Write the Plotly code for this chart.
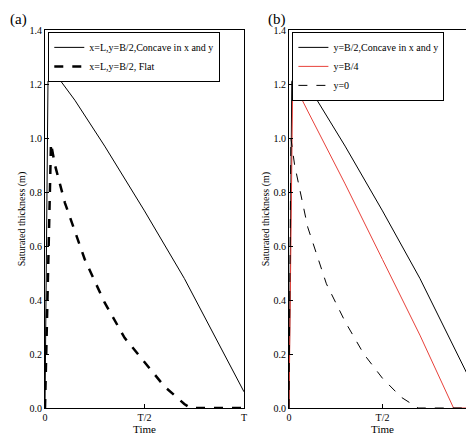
import plotly.graph_objects as go
from plotly.subplots import make_subplots

# --- data (time as fraction of T, thickness in m) ---
t_concave = [0, 0.015, 0.03, 0.06, 0.08, 0.15, 0.3, 0.5, 0.7, 0.9, 1.0]
h_concave = [0, 1.21, 1.225, 1.225, 1.21, 1.14, 0.97, 0.73, 0.48, 0.2, 0.06]

t_flat = [0, 0.03, 0.05, 0.1, 0.2, 0.3, 0.4, 0.5, 0.6, 0.7, 0.73, 1.0]
h_flat = [0, 0.98, 0.9, 0.76, 0.55, 0.39, 0.26, 0.17, 0.08, 0.015, 0, 0]

t_quarter = [0, 0.02, 0.1, 0.3, 0.5, 0.7, 0.88, 1.0]
h_quarter = [0, 1.21, 1.1, 0.83, 0.55, 0.27, 0, 0]

t_edge = [0, 0.01, 0.03, 0.06, 0.1, 0.2, 0.3, 0.4, 0.5, 0.6, 0.69, 1.0]
h_edge = [0, 1.0, 0.9, 0.8, 0.67, 0.46, 0.32, 0.2, 0.11, 0.04, 0, 0]

xtick_vals = [0, 0.5, 1]
xtick_text = ['0', 'T/2', 'T']

fig = make_subplots(rows=1, cols=2)

fig.add_trace(go.Scatter(x=t_concave, y=h_concave, mode='lines', line=dict(color='black', width=1),
                         name='x=L,y=B/2,Concave in x and y', legend='legend'), row=1, col=1)
fig.add_trace(go.Scatter(x=t_flat, y=h_flat, mode='lines', line=dict(color='black', width=2.5, dash='dash'),
                         name='x=L,y=B/2, Flat', legend='legend'), row=1, col=1)

fig.add_trace(go.Scatter(x=t_concave, y=h_concave, mode='lines', line=dict(color='black', width=1),
                         name='y=B/2,Concave in x and y', legend='legend2'), row=1, col=2)
fig.add_trace(go.Scatter(x=t_quarter, y=h_quarter, mode='lines', line=dict(color='#e8413a', width=1),
                         name='y=B/4', legend='legend2'), row=1, col=2)
fig.add_trace(go.Scatter(x=t_edge, y=h_edge, mode='lines', line=dict(color='black', width=1, dash='dash'),
                         name='y=0', legend='legend2'), row=1, col=2)

axis_style = dict(showgrid=False, zeroline=False, showline=True, linecolor='black', linewidth=1,
                  mirror=True, ticks='inside', ticklen=4, tickcolor='black', automargin=False,
                  tickfont=dict(size=10))
fig.update_xaxes(range=[0, 1], tickvals=xtick_vals, ticktext=xtick_text, title_text='Time',
                 title_standoff=0, title_font=dict(size=11), **axis_style)
fig.update_yaxes(range=[0, 1.4], dtick=0.2, tickformat='.1f', title_text='Saturated thickness (m)',
                 title_standoff=2, title_font=dict(size=10), **axis_style)
fig.update_xaxes(domain=[37 / 474, 236 / 474], row=1, col=1)
fig.update_xaxes(domain=[281 / 474, 468 / 474], row=1, col=2)

legend_style = dict(bgcolor='white', bordercolor='black', borderwidth=1, font=dict(size=10),
                    yanchor='top', xanchor='left', tracegroupgap=0, itemwidth=30)
fig.update_layout(
    width=474, height=433,
    margin=dict(l=0, r=0, t=22, b=33),
    plot_bgcolor='white', paper_bgcolor='white',
    font=dict(family='Liberation Serif', size=11, color='black'),
    showlegend=True,
    legend=dict(x=0.085, y=0.995, **legend_style),
    legend2=dict(x=0.6, y=0.995, **legend_style),
    annotations=[
        dict(text='(a)', x=0.0, y=1.0, xref='paper', yref='paper', xanchor='left', yanchor='bottom',
             showarrow=False, font=dict(size=15)),
        dict(text='(b)', x=0.545, y=1.0, xref='paper', yref='paper', xanchor='left', yanchor='bottom',
             showarrow=False, font=dict(size=15)),
    ],
)

fig.write_html("out.html")
